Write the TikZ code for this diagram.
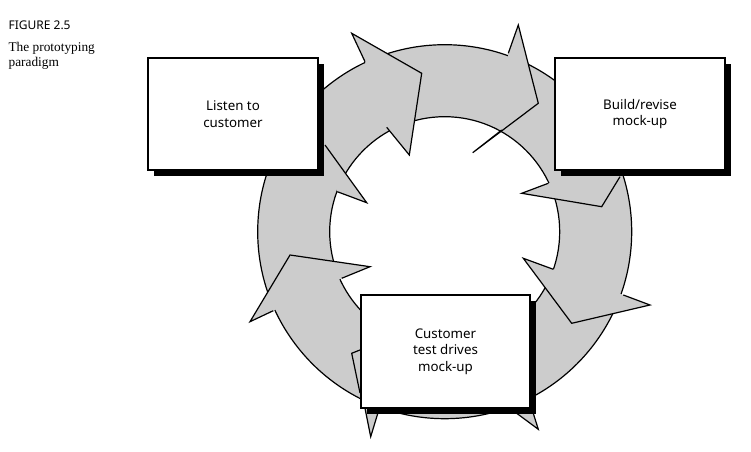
\documentclass[tikz,border=0pt]{standalone}
\usepackage{fontspec}
\setmainfont{Liberation Serif}
\newfontfamily\boxfont{Noto Sans}
\begin{document}
\begin{tikzpicture}[x=0.75pt,y=-0.75pt,line width=0.9pt,
  ring/.style={fill=gray!40},
  box/.style={draw,fill=white,line width=1.2pt,minimum width=170*0.75pt,minimum height=112*0.75pt,inner sep=0pt,align=center,font=\boxfont\fontsize{10}{12.5}\selectfont},
  shadow/.style={fill=black}]
\useasboundingbox (0,0) rectangle (751,452);
\coordinate (c) at (444.7,231.7);
\fill[ring,even odd rule] (c) circle[radius=187] (c) circle[radius=115];
\draw (c) circle[radius=187] (c) circle[radius=115];
% arrow heads / notches
\foreach \pts in {
 {(365,61.7)--(351.7,33.3)--(421.7,73.3)--(409.3,155)--(386.7,127.3)},
 {(508.3,53.3)--(518.3,25)--(538.3,103.3)--(472.7,152.7)--(501.7,130)},
 {(620,176.7)--(601.7,206.7)--(521.7,193.3)--(548.3,183.3)},
 {(553.3,269.3)--(523.3,258.3)--(571.7,323.3)--(650,305)--(623.3,295)},
 {(516.7,413.3)--(538.3,429.3)--(531.7,408.3)},
 {(365,408.3)--(370.7,436.7)--(378.3,411.7)},
 {(360,350)--(351.7,353.3)--(360,393)},
 {(273.3,310.7)--(250,321.7)--(290,255)--(370,266.7)--(341.7,278.3)},
 {(325,145)--(366.7,202.7)--(337.3,191.7)}}
 {\fill[ring] \pts -- cycle; \draw[line join=miter] \pts;}
% boxes
\fill[shadow] (154,64) rectangle (324,176);
\node[box] (listen) at (233,114) {Listen to\\customer};
\fill[shadow] (561,64) rectangle (731,176);
\node[box] (build) at (640,114) {Build/revise\\mock-up};
\fill[shadow] (367,301) rectangle (536,414);
\node[box,minimum width=169*0.75pt,minimum height=113*0.75pt] (test) at (445.5,351.5) {Customer\\test drives\\mock-up};
% caption
\node[anchor=north west,inner sep=0pt,font=\boxfont\bfseries\fontsize{9}{10}\selectfont] (fig) at (8,20) {FIGURE 2.5};
\node[anchor=north west,inner sep=0pt,align=left,font=\fontsize{10}{11}\selectfont] (cap) at (8,42) {The prototyping\\paradigm};
\end{tikzpicture}
\end{document}
